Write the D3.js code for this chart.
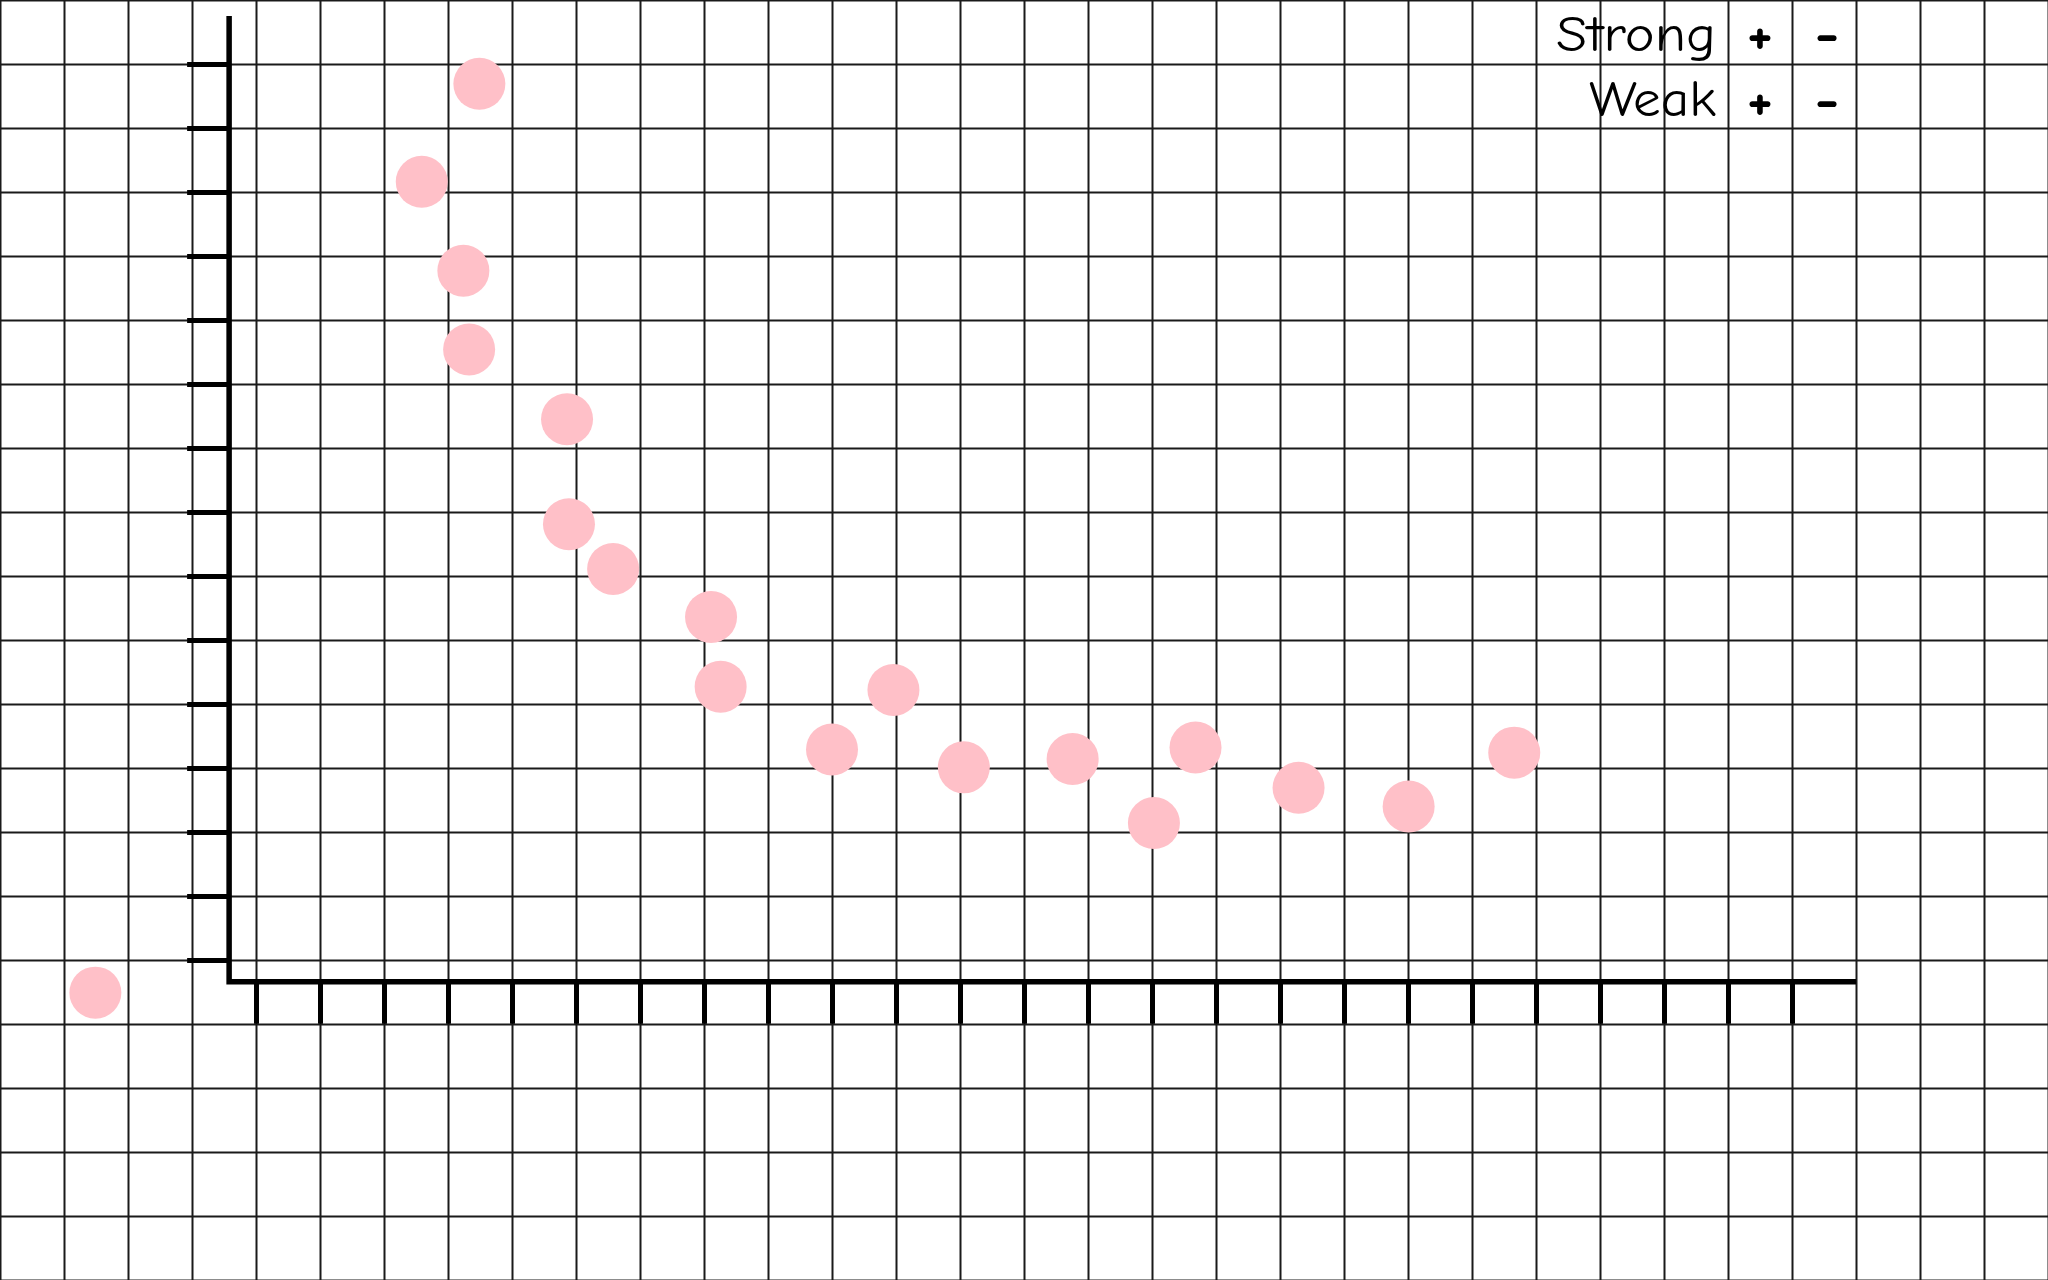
<!DOCTYPE html>
<html>
<head>
<meta charset="utf-8">
<script src="https://cdn.jsdelivr.net/npm/d3@7"></script>
<style>
  html, body { margin: 0; padding: 0; background: #fff; }
  svg { display: block; }
</style>
</head>
<body>
<svg id="chart" width="2048" height="1280"></svg>
<script>
// ---- data ----
const xValues = [-1.51, 4.49, 3.59, 4.24, 4.33, 5.86, 5.89, 6.58, 8.11, 8.26, 10.00, 10.96, 12.06, 13.76, 15.03, 15.68, 17.29, 19.01, 20.66];
const yValues = [0.49, 14.69, 13.16, 11.77, 10.54, 9.45, 7.81, 7.11, 6.36, 5.27, 4.29, 5.22, 4.01, 4.14, 3.14, 4.32, 3.69, 3.40, 4.24];
const xTicks = d3.range(1, 26);   // 25 tick marks on x axis
const yTicks = d3.range(1, 16);   // 15 tick marks on y axis
const legendLabels = ["Strong", "Weak"];
const legendSigns = ["+", "-"];

// ---- layout ----
const W = 2048, H = 1280;
const svg = d3.select("#chart");
const x = d3.scaleLinear().domain([-3, 29]).range([0, W]);
const y = d3.scaleLinear().domain([-4, 16]).range([H, 0]);

svg.append("rect").attr("width", W).attr("height", H).attr("fill", "#fff");

// grid paper
const grid = svg.append("g").attr("stroke", "#1a1a1a").attr("stroke-width", 2);
grid.selectAll("line.v").data(d3.range(-3, 30)).join("line")
  .attr("class", "v")
  .attr("x1", d => x(d) + 0.5).attr("x2", d => x(d) + 0.5)
  .attr("y1", 0).attr("y2", H);
grid.selectAll("line.h").data(d3.range(-4, 17)).join("line")
  .attr("class", "h")
  .attr("y1", d => y(d) + 0.5).attr("y2", d => y(d) + 0.5)
  .attr("x1", 0).attr("x2", W);

// axes origin (in data units)
const x0 = 0.58, y0 = 0.66, yTop = 15.75, xEnd = 26;

// y axis ticks
const yAxis = svg.append("g")
  .attr("transform", `translate(${x(x0)},0)`)
  .call(d3.axisLeft(y).tickValues(yTicks).tickSize(42).tickFormat(""));
yAxis.select(".domain").remove();
yAxis.selectAll(".tick line").attr("stroke", "#000").attr("stroke-width", 5);

// x axis ticks
const xAxis = svg.append("g")
  .attr("transform", `translate(0,${y(y0)})`)
  .call(d3.axisBottom(x).tickValues(xTicks).tickSize(42).tickFormat(""));
xAxis.select(".domain").remove();
xAxis.selectAll(".tick line").attr("stroke", "#000").attr("stroke-width", 5);

// axis lines
svg.append("path")
  .attr("d", `M${x(x0)},${y(yTop)} L${x(x0)},${y(y0)} L${x(xEnd)},${y(y0)}`)
  .attr("fill", "none").attr("stroke", "#000").attr("stroke-width", 5.5)
  .attr("stroke-linejoin", "miter");

// points
svg.append("g").selectAll("circle").data(xValues.map((v, i) => [v, yValues[i]])).join("circle")
  .attr("cx", d => x(d[0]))
  .attr("cy", d => y(d[1]))
  .attr("r", 26)
  .attr("fill", "#ffc0c8");

// legend text
const font = "'Comic Sans MS', 'Comic Neue', 'DejaVu Sans', sans-serif";
const lg = svg.append("g").attr("font-family", font).attr("fill", "#000");
const rowY = [51, 116];
const signY = [53, 119];
const labelLen = [160, 127];
legendLabels.forEach((lab, i) => {
  lg.append("text")
    .attr("x", 1716).attr("y", rowY[i])
    .attr("text-anchor", "end")
    .attr("font-size", 50)
    .attr("textLength", labelLen[i])
    .attr("lengthAdjust", "spacingAndGlyphs")
    .text(lab);
  legendSigns.forEach((s, j) => {
    lg.append("text")
      .attr("x", [1760, 1827][j]).attr("y", signY[i])
      .attr("text-anchor", "middle")
      .attr("font-size", 60)
      .attr("font-weight", "bold")
      .text(s);
  });
});
</script>
</body>
</html>
